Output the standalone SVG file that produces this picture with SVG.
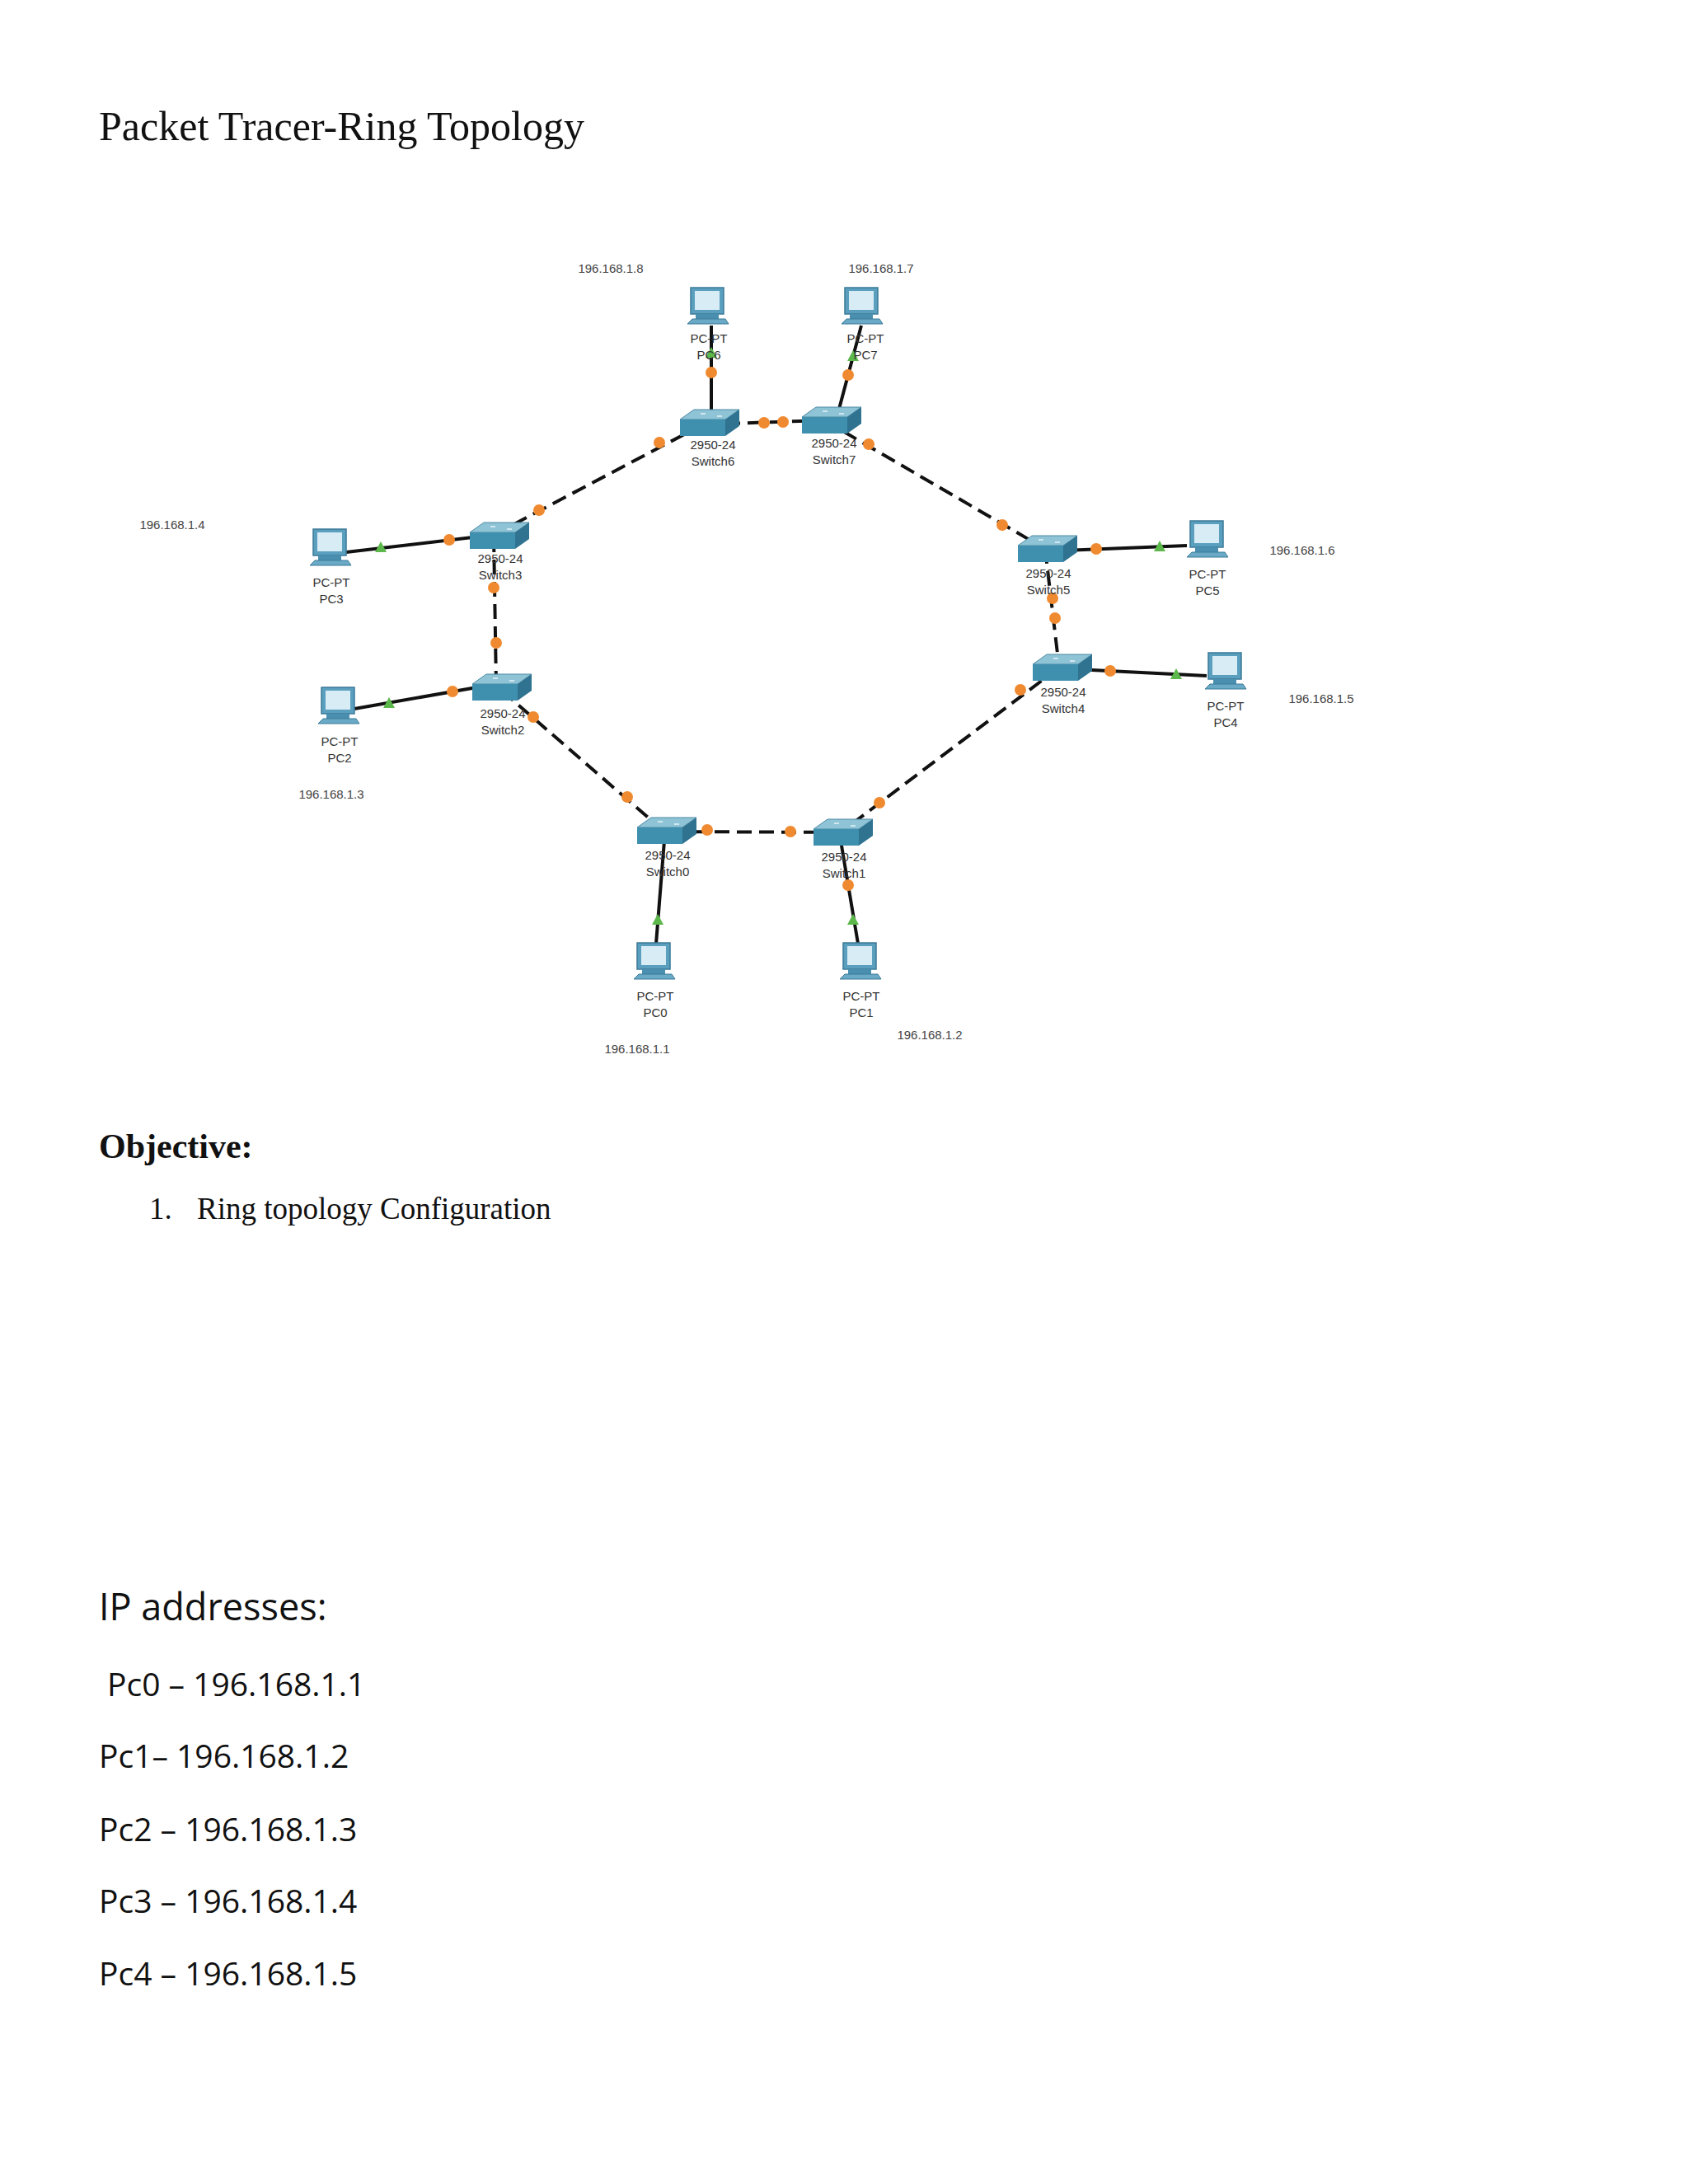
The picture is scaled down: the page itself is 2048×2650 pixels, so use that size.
<svg xmlns="http://www.w3.org/2000/svg" xmlns:xlink="http://www.w3.org/1999/xlink" width="2048" height="2650" viewBox="0 0 2048 2650">
<style>
.lbl{font-family:"Liberation Sans",Arial,sans-serif;font-size:15px;fill:#333;text-anchor:middle}
.ip{font-family:"Liberation Sans",Arial,sans-serif;font-size:15px;fill:#444;text-anchor:middle}
.ring{stroke:#111;stroke-width:4;stroke-dasharray:18 9;fill:none}
.pcl{stroke:#111;stroke-width:4;fill:none}
.dot{fill:#f08a30}
.tri{fill:#5cb84a}
.serif{font-family:"Liberation Serif","Times New Roman",serif;fill:#111}
.cal{font-family:"Open Sans","Liberation Sans",sans-serif;fill:#111}
</style>
<defs>
<g id="sw">
<polygon points="-35,-6 -18,-18 37,-18 20,-6" fill="#8fc3d6" stroke="#4c8aa3" stroke-width="1"/>
<polygon points="-35,-6 20,-6 20,14 -35,14" fill="#3f8fae"/>
<polygon points="20,-6 37,-18 37,2 20,14" fill="#2f7391"/>
<line x1="-10" y1="-13" x2="-4" y2="-13" stroke="#e6f3f8" stroke-width="1.5"/>
<line x1="10" y1="-10" x2="16" y2="-10" stroke="#e6f3f8" stroke-width="1.5"/>
</g>
<g id="pc">
<rect x="-20" y="-26" width="40" height="32" fill="#5b9fbf" stroke="#3b7a98" stroke-width="1.5"/>
<rect x="-15" y="-22" width="30" height="23" fill="#d8ecf5"/>
<rect x="-14" y="6" width="28" height="6" fill="#4a8fb0"/>
<polygon points="-24,18 -18,12 22,12 26,18" fill="#6aaac6" stroke="#3b7a98" stroke-width="1"/>
</g>
<polygon id="tr" points="0,-7 7,6 -7,6" class="tri"/>
</defs>
<rect width="2048" height="2650" fill="#fff"/>
<text x="120" y="170" class="serif" font-size="50">Packet Tracer-Ring Topology</text>

<g id="connectors">
<line class="ring" x1="853" y1="515" x2="1000" y2="510"/>
<line class="ring" x1="1000" y1="510" x2="1268" y2="666"/>
<line class="ring" x1="1268" y1="666" x2="1285" y2="810"/>
<line class="ring" x1="1285" y1="810" x2="1020" y2="1010"/>
<line class="ring" x1="1020" y1="1010" x2="806" y2="1009"/>
<line class="ring" x1="806" y1="1009" x2="602" y2="832"/>
<line class="ring" x1="602" y1="832" x2="599" y2="649"/>
<line class="ring" x1="599" y1="649" x2="853" y2="515"/>
<line class="pcl" x1="863" y1="395" x2="863" y2="505"/>
<line class="pcl" x1="1045" y1="395" x2="1017" y2="500"/>
<line class="pcl" x1="420" y1="670" x2="590" y2="650"/>
<line class="pcl" x1="430" y1="860" x2="590" y2="832"/>
<line class="pcl" x1="796" y1="1145" x2="806" y2="1020"/>
<line class="pcl" x1="1041" y1="1145" x2="1020" y2="1020"/>
<line class="pcl" x1="1290" y1="668" x2="1440" y2="662"/>
<line class="pcl" x1="1305" y1="812" x2="1464" y2="820"/>
<g>
<circle class="dot" cx="927" cy="513" r="7"/><circle class="dot" cx="950" cy="512" r="7"/>
<circle class="dot" cx="1054" cy="539" r="7"/><circle class="dot" cx="1216" cy="637" r="7"/>
<circle class="dot" cx="1277" cy="726" r="7"/><circle class="dot" cx="1280" cy="750" r="7"/>
<circle class="dot" cx="1238" cy="837" r="7"/><circle class="dot" cx="1067" cy="974" r="7"/>
<circle class="dot" cx="959" cy="1009" r="7"/><circle class="dot" cx="858" cy="1007" r="7"/>
<circle class="dot" cx="761" cy="967" r="7"/><circle class="dot" cx="647" cy="870" r="7"/>
<circle class="dot" cx="602" cy="780" r="7"/><circle class="dot" cx="599" cy="713" r="7"/>
<circle class="dot" cx="654" cy="619" r="7"/><circle class="dot" cx="800" cy="537" r="7"/>
<circle class="dot" cx="863" cy="452" r="7"/><circle class="dot" cx="1029" cy="455" r="7"/>
<circle class="dot" cx="545" cy="655" r="7"/><circle class="dot" cx="549" cy="839" r="7"/>
<circle class="dot" cx="1029" cy="1074" r="7"/>
<circle class="dot" cx="1330" cy="666" r="7"/><circle class="dot" cx="1347" cy="814" r="7"/>
<use xlink:href="#tr" x="863" y="428"/><use xlink:href="#tr" x="1035" y="432"/>
<use xlink:href="#tr" x="462" y="664"/><use xlink:href="#tr" x="472" y="853"/>
<use xlink:href="#tr" x="798" y="1116"/><use xlink:href="#tr" x="1035" y="1116"/>
<use xlink:href="#tr" x="1407" y="663"/><use xlink:href="#tr" x="1427" y="818"/>
</g>
</g>

<g id="Switch6"><use xlink:href="#sw" x="860" y="515"/><text class="lbl" x="865" y="545">2950-24</text><text class="lbl" x="865" y="565">Switch6</text></g>
<g id="Switch7"><use xlink:href="#sw" x="1008" y="512"/><text class="lbl" x="1012" y="543">2950-24</text><text class="lbl" x="1012" y="563">Switch7</text></g>
<g id="Switch3"><use xlink:href="#sw" x="605" y="652"/><text class="lbl" x="607" y="683">2950-24</text><text class="lbl" x="607" y="703">Switch3</text></g>
<g id="Switch2"><use xlink:href="#sw" x="608" y="836"/><text class="lbl" x="610" y="871">2950-24</text><text class="lbl" x="610" y="891">Switch2</text></g>
<g id="Switch0"><use xlink:href="#sw" x="808" y="1010"/><text class="lbl" x="810" y="1043">2950-24</text><text class="lbl" x="810" y="1063">Switch0</text></g>
<g id="Switch1"><use xlink:href="#sw" x="1022" y="1012"/><text class="lbl" x="1024" y="1045">2950-24</text><text class="lbl" x="1024" y="1065">Switch1</text></g>
<g id="Switch5"><use xlink:href="#sw" x="1270" y="668"/><text class="lbl" x="1272" y="701">2950-24</text><text class="lbl" x="1272" y="721">Switch5</text></g>
<g id="Switch4"><use xlink:href="#sw" x="1288" y="812"/><text class="lbl" x="1290" y="845">2950-24</text><text class="lbl" x="1290" y="865">Switch4</text></g>

<g id="PC6"><use xlink:href="#pc" x="858" y="375"/><text class="lbl" x="860" y="416">PC-PT</text><text class="lbl" x="860" y="436">PC6</text></g>
<g id="PC7"><use xlink:href="#pc" x="1045" y="375"/><text class="lbl" x="1050" y="416">PC-PT</text><text class="lbl" x="1050" y="436">PC7</text></g>
<g id="PC3"><use xlink:href="#pc" x="400" y="668"/><text class="lbl" x="402" y="712">PC-PT</text><text class="lbl" x="402" y="732">PC3</text></g>
<g id="PC2"><use xlink:href="#pc" x="410" y="860"/><text class="lbl" x="412" y="905">PC-PT</text><text class="lbl" x="412" y="925">PC2</text></g>
<g id="PC0"><use xlink:href="#pc" x="793" y="1170"/><text class="lbl" x="795" y="1214">PC-PT</text><text class="lbl" x="795" y="1234">PC0</text></g>
<g id="PC1"><use xlink:href="#pc" x="1043" y="1170"/><text class="lbl" x="1045" y="1214">PC-PT</text><text class="lbl" x="1045" y="1234">PC1</text></g>
<g id="PC5"><use xlink:href="#pc" x="1464" y="658"/><text class="lbl" x="1465" y="702">PC-PT</text><text class="lbl" x="1465" y="722">PC5</text></g>
<g id="PC4"><use xlink:href="#pc" x="1486" y="818"/><text class="lbl" x="1487" y="862">PC-PT</text><text class="lbl" x="1487" y="882">PC4</text></g>

<g id="ips">
<text class="ip" x="741" y="331">196.168.1.8</text>
<text class="ip" x="1069" y="331">196.168.1.7</text>
<text class="ip" x="209" y="642">196.168.1.4</text>
<text class="ip" x="1580" y="673">196.168.1.6</text>
<text class="ip" x="1603" y="853">196.168.1.5</text>
<text class="ip" x="402" y="969">196.168.1.3</text>
<text class="ip" x="773" y="1278">196.168.1.1</text>
<text class="ip" x="1128" y="1261">196.168.1.2</text>
</g>

<text x="120" y="1405" class="serif" font-size="42" font-weight="bold">Objective:</text>
<text x="181" y="1479" class="serif" font-size="37">1.</text>
<text x="239" y="1479" class="serif" font-size="37">Ring topology Configuration</text>

<text x="120" y="1966" class="cal" font-size="45">IP addresses:</text>
<text x="130" y="2058" class="cal" font-size="39">Pc0 – 196.168.1.1</text>
<text x="120" y="2145" class="cal" font-size="39">Pc1– 196.168.1.2</text>
<text x="120" y="2234" class="cal" font-size="39">Pc2 – 196.168.1.3</text>
<text x="120" y="2321" class="cal" font-size="39">Pc3 – 196.168.1.4</text>
<text x="120" y="2409" class="cal" font-size="39">Pc4 – 196.168.1.5</text>
</svg>
